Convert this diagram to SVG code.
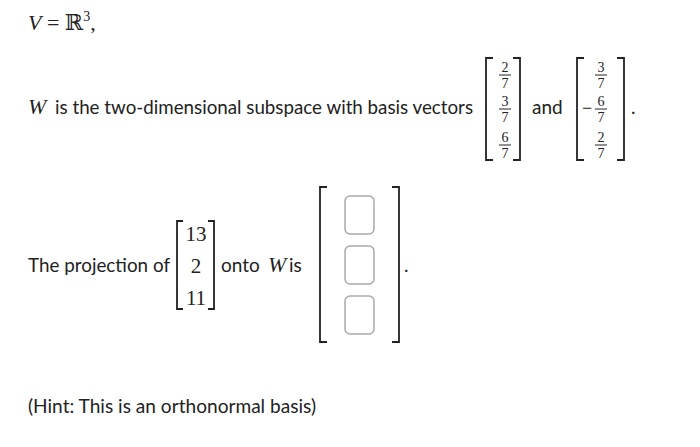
<svg xmlns="http://www.w3.org/2000/svg" width="700" height="447" viewBox="0 0 700 447">
<style>
.s{font-family:Lato,"Open Sans",sans-serif;font-size:19px;fill:#222}
.m{font-family:"Liberation Serif","DejaVu Serif",serif;fill:#222}
.f{font-family:"Liberation Serif",serif;font-size:14px;fill:#222;text-anchor:middle}
.b{fill:none;stroke:#222;stroke-width:1.8}
.bx{fill:#fff;stroke:#aaa;stroke-width:1.5}
</style>
<rect width="700" height="447" fill="#fff"/>
<text class="m" x="28" y="30" font-size="22"><tspan font-style="italic">V</tspan> = ℝ<tspan font-size="14" dy="-9">3</tspan><tspan dy="9">,</tspan></text>
<text class="m" x="28" y="114" font-style="italic" font-size="22">W</text>
<text class="s" x="55" y="114" textLength="418" lengthAdjust="spacingAndGlyphs">is the two-dimensional subspace with basis vectors</text>
<path class="b" d="M493,58 H486 V160 H493 M513,58 H520 V160 H513"/>
<g class="f">
<text x="505" y="72">2</text><line x1="499" y1="75" x2="511" y2="75" stroke="#222"/><text x="505" y="88">7</text>
<text x="505" y="106">3</text><line x1="499" y1="109" x2="511" y2="109" stroke="#222"/><text x="505" y="122">7</text>
<text x="505" y="142">6</text><line x1="499" y1="145" x2="511" y2="145" stroke="#222"/><text x="505" y="158">7</text>
</g>
<text class="s" x="532" y="114">and</text>
<path class="b" d="M584,58 H577 V160 H584 M617,58 H624 V160 H617"/>
<g class="f">
<text x="601" y="72">3</text><line x1="595" y1="75" x2="607" y2="75" stroke="#222"/><text x="601" y="88">7</text>
<text x="587" y="114" font-size="18">−</text>
<text x="601" y="106">6</text><line x1="595" y1="109" x2="607" y2="109" stroke="#222"/><text x="601" y="122">7</text>
<text x="601" y="142">2</text><line x1="595" y1="145" x2="607" y2="145" stroke="#222"/><text x="601" y="158">7</text>
</g>
<text class="s" x="631" y="114">.</text>
<text class="s" x="28" y="272" textLength="142" lengthAdjust="spacingAndGlyphs">The projection of</text>
<path class="b" d="M183,221 H177 V309 H183 M208,221 H214 V309 H208"/>
<g class="m" font-size="21" text-anchor="middle">
<text x="196" y="241">13</text><text x="196" y="273">2</text><text x="196" y="305">11</text>
</g>
<text class="s" x="221" y="272">onto</text>
<text class="m" x="268" y="272" font-size="22" font-style="italic">W</text>
<text class="s" x="289" y="272">is</text>
<path class="b" d="M327,187 H320 V342 H327 M392,187 H399 V342 H392"/>
<rect class="bx" x="345" y="196" width="29" height="38" rx="5"/>
<rect class="bx" x="345" y="246" width="29" height="38" rx="5"/>
<rect class="bx" x="345" y="296" width="29" height="38" rx="5"/>
<text class="s" x="404" y="272">.</text>
<text class="s" x="28" y="413" textLength="288" lengthAdjust="spacingAndGlyphs">(Hint: This is an orthonormal basis)</text>
</svg>
